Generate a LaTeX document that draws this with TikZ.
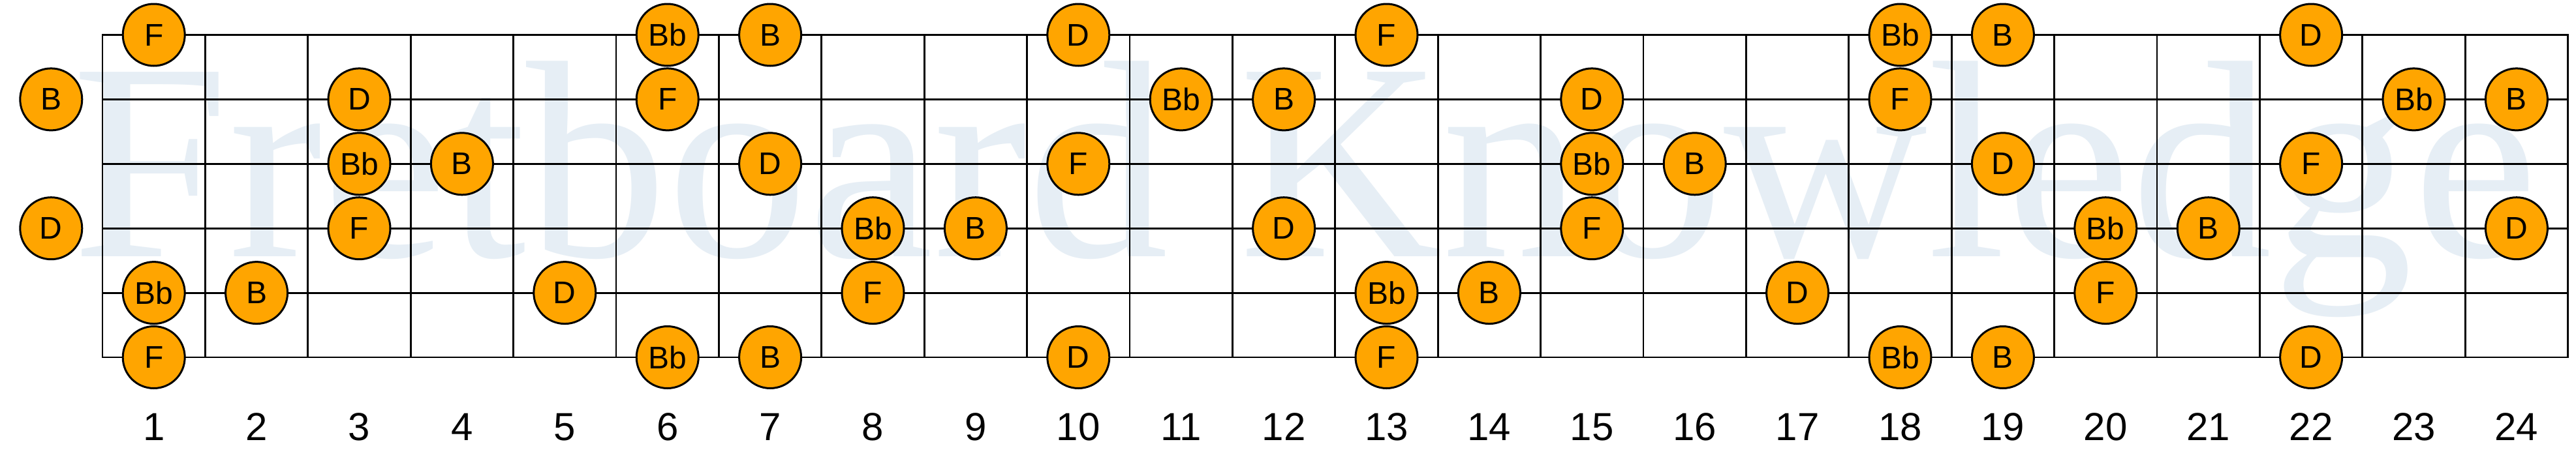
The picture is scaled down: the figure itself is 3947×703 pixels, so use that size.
\documentclass[tikz,border=0pt]{standalone}
\usepackage{fontspec}
\setmainfont{Liberation Sans}
\newfontfamily\wmfont{Liberation Serif}
\definecolor{notefill}{RGB}{255,165,0}
\definecolor{wmblue}{RGB}{230,238,245}
\begin{document}
\begin{tikzpicture}[x=0.5pt,y=-0.5pt,
  note/.style={circle,draw=black,line width=1.5pt,fill=notefill,minimum size=47.5pt,inner sep=0pt,font=\fontsize{24}{24}\selectfont},
  fretnum/.style={font=\fontsize{30}{30}\selectfont,inner sep=0pt},
  gridline/.style={line width=1.4pt,draw=black,line cap=rect},
  watermark/.style={anchor=base west,inner sep=0pt,text=wmblue,font=\wmfont\fontsize{216}{216}\selectfont}
  ]
\useasboundingbox (0,0) rectangle (3947,703);
\fill[white] (0,0) rectangle (3947,703);
\node[watermark] (wm) at (110,393) {Fretboard Knowledge};
% frets
\foreach \k in {0,...,24}
  \draw[gridline] ({157+\k*157.4},53.5) -- ({157+\k*157.4},548);
% strings
\foreach \s in {0,...,5}
  \draw[gridline] (157,{53.5+\s*98.9}) -- (3934.6,{53.5+\s*98.9});
% notes
\foreach \s/\f/\nm in {
  1/1/F, 1/6/Bb, 1/7/B, 1/10/D, 1/13/F, 1/18/Bb, 1/19/B, 1/22/D,
  2/0/B, 2/3/D, 2/6/F, 2/11/Bb, 2/12/B, 2/15/D, 2/18/F, 2/23/Bb, 2/24/B,
  3/3/Bb, 3/4/B, 3/7/D, 3/10/F, 3/15/Bb, 3/16/B, 3/19/D, 3/22/F,
  4/0/D, 4/3/F, 4/8/Bb, 4/9/B, 4/12/D, 4/15/F, 4/20/Bb, 4/21/B, 4/24/D,
  5/1/Bb, 5/2/B, 5/5/D, 5/8/F, 5/13/Bb, 5/14/B, 5/17/D, 5/20/F,
  6/1/F, 6/6/Bb, 6/7/B, 6/10/D, 6/13/F, 6/18/Bb, 6/19/B, 6/22/D}
  \node[note] (n\s-\f) at ({157+(\f-0.5)*157.4},{53.5+(\s-1)*98.9}) {\nm};
% fret numbers
\foreach \k in {1,...,24}
  \node[fretnum] (num\k) at ({157+(\k-0.5)*157.4},655) {\k};
\end{tikzpicture}
\end{document}
